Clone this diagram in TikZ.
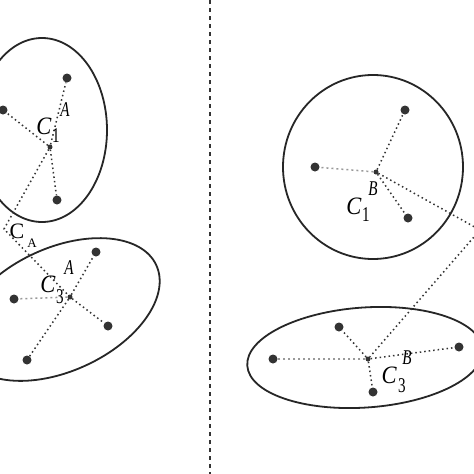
\documentclass[tikz,border=0pt]{standalone}
\usepackage{fontspec}
\setmainfont{Liberation Serif}
\newcommand{\cbig}{\scalebox{0.9}[1]{\fontsize{25}{27}\selectfont\itshape C}}
\newcommand{\cidx}[1]{\scalebox{0.72}[1]{\fontsize{21}{23}\selectfont #1}}
\begin{document}
\begin{tikzpicture}[x=1pt,y=-1pt,
  pt/.style={circle,fill=black!80,inner sep=0pt,minimum size=9pt},
  ctr/.style={circle,fill=black!80,inner sep=0pt,minimum size=5pt},
  dl/.style={draw=black!80,line width=1.5pt,dash pattern=on 1.5pt off 3pt},
  dlg/.style={draw=black!40,line width=1.5pt,dash pattern=on 2pt off 3pt},
  ell/.style={draw=black!85,line width=1.8pt},
  lab/.style={inner sep=0pt}]
\useasboundingbox (0,0) rectangle (474,474);
\clip (0,0) rectangle (474,474);
\fill[white] (0,0) rectangle (474,474);
% separator
\draw[black!80,line width=1.4pt,dash pattern=on 4pt off 4pt] (210,0) -- (210,474);
% ellipses
\draw[ell] (42,130) ellipse [x radius=65, y radius=92];
\draw[ell] (60,309.5) ellipse [x radius=106, y radius=61.6, rotate=24.7];
\draw[ell] (373,167) ellipse [x radius=90, y radius=92];
\draw[ell] (365,357.5) ellipse [x radius=118, y radius=50, rotate=4];
% left upper cluster
\node[ctr] (ca1) at (50,147) {};
\node[pt] (a11) at (67,78) {};
\node[pt] (a12) at (3,110) {};
\node[pt] (a13) at (57,200) {};
\draw[dl] (ca1) -- (a11);
\draw[dl] (ca1) -- (a12);
\draw[dl] (ca1) -- (a13);
% left lower cluster
\node[ctr] (ca3) at (70,297) {};
\node[pt] (a31) at (96,252) {};
\node[pt] (a32) at (14,299) {};
\node[pt] (a33) at (108,326) {};
\node[pt] (a34) at (27,360) {};
\draw[dl] (ca3) -- (a31);
\draw[dlg] (ca3) -- (a32);
\draw[dl] (ca3) -- (a33);
\draw[dl] (ca3) -- (a34);
% link A
\coordinate (vA) at (4,229);
\draw[dl] (ca1) -- (vA) -- (ca3);
% right upper cluster
\node[ctr] (cb1) at (376,172) {};
\node[pt] (b11) at (405,110) {};
\node[pt] (b12) at (315,167) {};
\node[pt] (b13) at (408,218) {};
\draw[dl] (cb1) -- (b11);
\draw[dlg] (cb1) -- (b12);
\draw[dl] (cb1) -- (b13);
% right lower cluster
\node[ctr] (cb3) at (368,359) {};
\node[pt] (b31) at (339,327) {};
\node[pt] (b32) at (273,359) {};
\node[pt] (b33) at (459,347) {};
\node[pt] (b34) at (373,392) {};
\draw[dl] (cb3) -- (b31);
\draw[dlg] (cb3) -- (b32);
\draw[dl] (cb3) -- (b33);
\draw[dl] (cb3) -- (b34);
% link B
\coordinate (vB) at (480,230);
\draw[dl] (cb1) -- (vB) -- (cb3);
% labels
\node[lab] (l1) at (44,126) {\cbig};
\node[lab] (l1s) at (65,110) {\cidx{\itshape A}};
\node[lab] (l1b) at (56,136) {\cidx{1}};
\node[lab,font=\fontsize{22}{24}\selectfont] (lA) at (17,231) {C};
\node[lab,font=\fontsize{13}{15}\selectfont] (lAs) at (32,243) {A};
\node[lab] (l3) at (48,284) {\cbig};
\node[lab] (l3s) at (69,268) {\cidx{\itshape A}};
\node[lab] (l3b) at (60,297) {\cidx{3}};
\node[lab] (r1) at (354,206) {\cbig};
\node[lab] (r1s) at (373,189) {\cidx{\itshape B}};
\node[lab] (r1b) at (366,215) {\cidx{1}};
\node[lab] (r3) at (389,375) {\cbig};
\node[lab] (r3s) at (407,358) {\cidx{\itshape B}};
\node[lab] (r3b) at (402,386) {\cidx{3}};
\end{tikzpicture}
\end{document}
